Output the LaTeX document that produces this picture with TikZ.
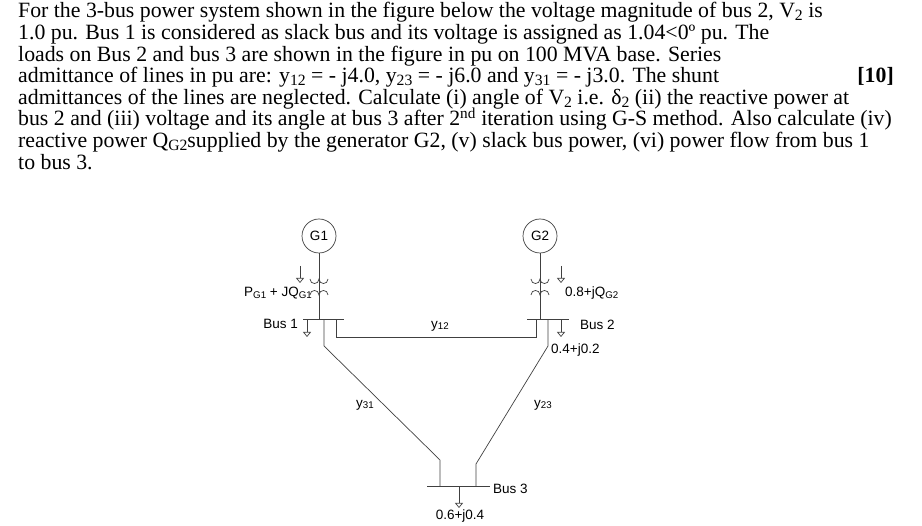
\documentclass[tikz,border=0pt]{standalone}
\usepackage{fontspec}
\setmainfont{Liberation Serif}
\setsansfont{Liberation Sans}
\usetikzlibrary{arrows.meta}
\newcommand{\sbs}[1]{\raisebox{-0.12em}{\scalebox{0.72}{#1}}}
\begin{document}
\begin{tikzpicture}[x=1pt,y=-1pt,
  wire/.style={draw=black!75,line width=0.7pt},
  load/.style={draw=black!75,line width=0.7pt,-{Triangle[open,width=8pt,length=5pt]}},
  para/.style={anchor=base west,inner sep=0,font=\fontsize{21.8}{22}\selectfont},
  lab/.style={inner sep=0,font=\sffamily\fontsize{13.5}{15}\selectfont},
  gen/.style={circle,draw=black!75,line width=0.7pt,minimum size=34pt,inner sep=0,font=\sffamily\fontsize{13.5}{15}\selectfont}]
\useasboundingbox (0,0) rectangle (922,526);
% text
\node[para] (t1) at (18,18) {For the 3-bus power system shown in the figure below the voltage magnitude of bus 2, V\sbs{2} is};
\node[para] (t2) at (18,40) {1.0 pu. Bus 1 is considered as slack bus and its voltage is assigned as 1.04<0º pu. The};
\node[para] (t3) at (18,61.5) {loads on Bus 2 and bus 3 are shown in the figure in pu on 100 MVA base. Series};
\node[para] (t4) at (18,83) {admittance of lines in pu are: y\sbs{12} = - j4.0, y\sbs{23} = - j6.0 and y\sbs{31} = - j3.0. The shunt};
\node[para,anchor=base east] (t4b) at (894,83) {\textbf{[10]}};
\node[para] (t5) at (18,104.5) {admittances of the lines are neglected. Calculate (i) angle of V\sbs{2} i.e. δ\sbs{2} (ii) the reactive power at};
\node[para] (t6) at (18,126) {bus 2 and (iii) voltage and its angle at bus 3 after 2\textsuperscript{nd} iteration using G-S method. Also calculate (iv)};
\node[para] (t7) at (18,148) {reactive power Q\sbs{G2}supplied by the generator G2, (v) slack bus power, (vi) power flow from bus 1};
\node[para] (t8) at (18,169.5) {to bus 3.};
% generators
\node[gen] (g1) at (319,236) {G1};
\node[gen] (g2) at (540,236) {G2};
% buses
\coordinate (b1l) at (303,320); \coordinate (b1r) at (344,320);
\coordinate (b2l) at (527,320); \coordinate (b2r) at (569,320);
\coordinate (b3l) at (427,487); \coordinate (b3r) at (490,487);
\draw[wire,line width=1pt] (b1l) -- (b1r);
\draw[wire,line width=1pt] (b2l) -- (b2r);
\draw[wire,line width=1pt] (b3l) -- (b3r);
% generator leads with transformer coils
\foreach \g/\x in {g1/319,g2/540}{
  \draw[wire] (\g.south) -- (\x,320);
  \draw[wire] (\x-9,279) .. controls (\x-9,285) and (\x,285) .. (\x,279)
              .. controls (\x,285) and (\x+9,285) .. (\x+9,279);
  \draw[wire] (\x-9,295) .. controls (\x-9,289) and (\x,289) .. (\x,295)
              .. controls (\x,289) and (\x+9,289) .. (\x+9,295);
}
% power arrows
\draw[load] (300,266) -- (300,283);
\draw[load] (561,266) -- (561,283);
% bus loads
\draw[load] (307,320) -- (307,337);
\draw[load] (561,320) -- (561,337);
\draw[load] (459,487) -- (459,508);
% lines
\coordinate (a1) at (324,346); \coordinate (a3) at (440,460);
\draw[wire] (324,320) -- (a1) -- (a3) -- (440,487);
\coordinate (c2) at (548,346); \coordinate (c3) at (476,464);
\draw[wire] (548,320) -- (c2) -- (c3) -- (476,487);
\draw[wire] (336,320) -- (336,337) -- (536,337) -- (536,320);
% labels
\node[lab,anchor=east] (lp) at (312,293) {P\sbs{G1} + JQ\sbs{G1}};
\node[lab,anchor=west] (lq) at (565,293) {0.8+jQ\sbs{G2}};
\node[lab,anchor=east] (lb1) at (298,324) {Bus 1};
\node[lab,anchor=west] (lb2) at (580,325) {Bus 2};
\node[lab] (ly12) at (440,326) {y\sbs{12}};
\node[lab,anchor=west] (ll2) at (551,350) {0.4+j0.2};
\node[lab] (ly31) at (365,405) {y\sbs{31}};
\node[lab] (ly23) at (543,405) {y\sbs{23}};
\node[lab,anchor=west] (lb3) at (493,489) {Bus 3};
\node[lab] (ll3) at (460,516) {0.6+j0.4};
\end{tikzpicture}
\end{document}
